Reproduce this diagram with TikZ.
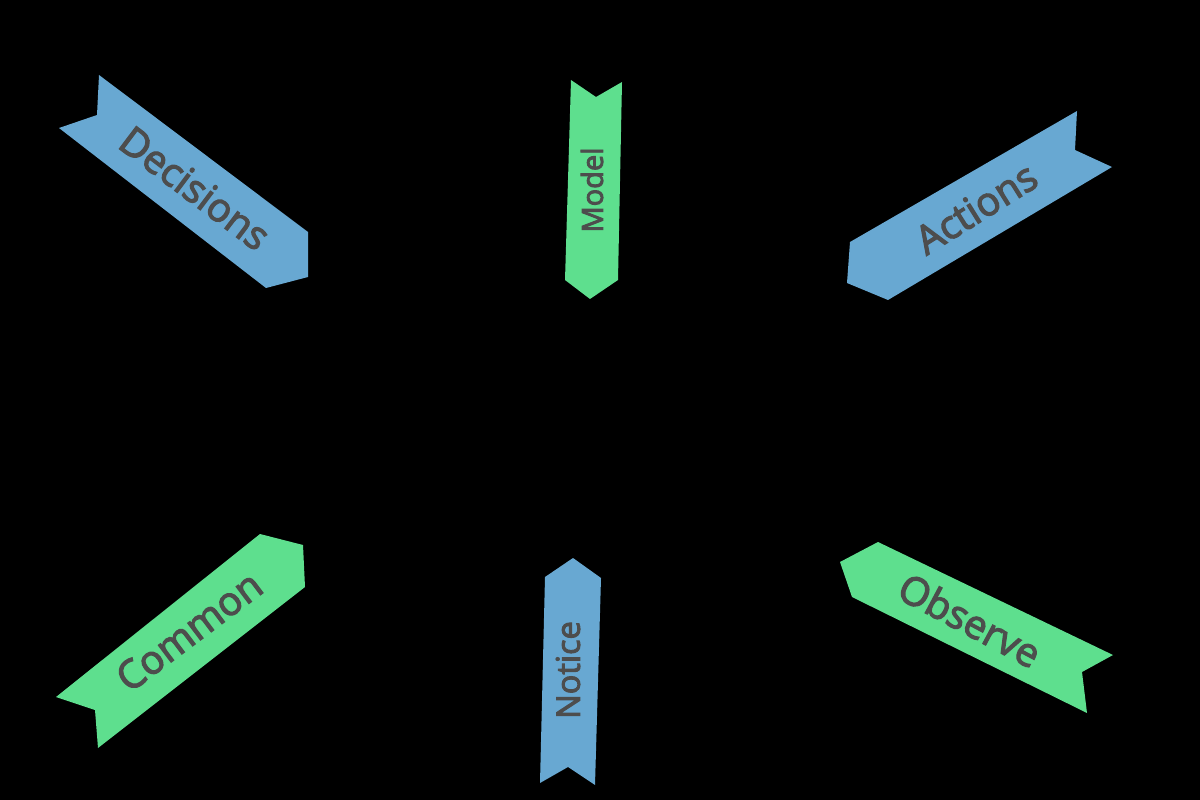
\documentclass[tikz,border=0pt]{standalone}
\usepackage{fontspec}
\setmainfont{Open Sans}
\newfontfamily\bandfont{Open Sans}[FakeBold=3]
\definecolor{ribbonblue}{HTML}{68A8D2}
\definecolor{ribbongreen}{HTML}{5EDF8E}
\definecolor{labelgray}{HTML}{4D4D4D}
\tikzset{
  blueband/.style={fill=ribbonblue},
  greenband/.style={fill=ribbongreen},
  bandlabel/.style={text=labelgray, inner sep=0pt, font=\bandfont\fontsize{22.5}{26}\selectfont},
  smalllabel/.style={bandlabel, font=\bandfont\fontsize{16.5}{20}\selectfont}
}
\begin{document}
\begin{tikzpicture}[x=0.02cm,y=-0.02cm]
  \fill[black] (0,0) rectangle (1200,800);
  % top row
  \fill[blueband] (99,75) -- (97,115) -- (59,128) -- (266,288) -- (308,277) -- (308,232) -- cycle;
  \node[bandlabel, rotate=-37] (decisions) at (195,188) {Decisions};
  \fill[greenband] (571,80) -- (596,97) -- (622,82) -- (618,280) -- (590,299) -- (565,280) -- cycle;
  \node[smalllabel, rotate=90] (model) at (592,190) {Model};
  \fill[blueband] (1077,111) -- (1075,150) -- (1112,167) -- (888,300) -- (847,283) -- (850,242) -- cycle;
  \node[bandlabel, rotate=32] (actions) at (976,208) {Actions};
  % bottom row
  \fill[greenband] (260,534) -- (303,545) -- (305,587) -- (98,748) -- (95,710) -- (56,697) -- cycle;
  \node[bandlabel, rotate=37] (common) at (189,631) {Common};
  \fill[blueband] (573,558) -- (601,578) -- (595,785) -- (568,767) -- (540,783) -- (545,577) -- cycle;
  \node[smalllabel, font=\bandfont\fontsize{18.5}{22}\selectfont, rotate=90] (notice) at (568,670) {Notice};
  \fill[greenband] (878,542) -- (840,562) -- (852,597) -- (1087,713) -- (1082,672) -- (1113,655) -- cycle;
  \node[bandlabel, rotate=-28] (observe) at (970,620) {Observe};
\end{tikzpicture}
\end{document}
